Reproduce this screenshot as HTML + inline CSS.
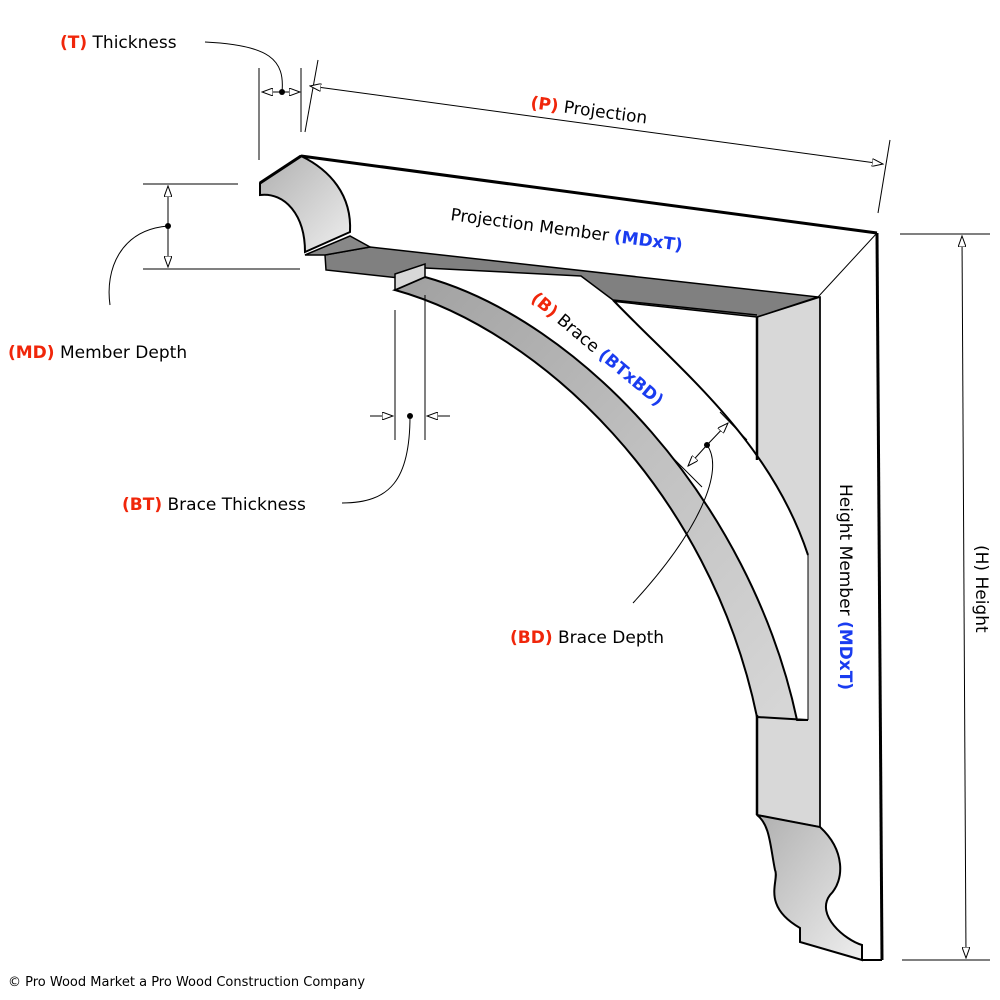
<!DOCTYPE html>
<html><head><style>
body{margin:0;background:#fff;}
svg{display:block}
text{font-family:"DejaVu Sans","Liberation Sans",sans-serif;font-size:17px;}
.r{fill:#f0260a;font-weight:bold}
.b{fill:#1a3cf0;font-weight:bold}
</style></head><body>
<svg width="1000" height="1000" viewBox="0 0 1000 1000" xmlns="http://www.w3.org/2000/svg">
<defs>
<linearGradient id="g1" x1="0" y1="0" x2="1" y2="1"><stop offset="0" stop-color="#b0b0b0"/><stop offset="1" stop-color="#eee"/></linearGradient>
<linearGradient id="g2" x1="0" y1="0" x2="1" y2="1"><stop offset="0" stop-color="#a0a0a0"/><stop offset="0.5" stop-color="#c0c0c0"/><stop offset="1" stop-color="#d8d8d8"/></linearGradient>
<marker id="ah" markerWidth="12" markerHeight="8" refX="11" refY="4" orient="auto-start-reverse" markerUnits="userSpaceOnUse"><path d="M0,0 L11,4 L0,8 Z" fill="#fff" stroke="#000" stroke-width="1"/></marker>
</defs>
<g stroke="#000" fill="none">
<path d="M757,317 L820,297 L820,827 L757,815 Z" fill="#d8d8d8" stroke-width="1.5"/>
<path d="M325,255 L370,247 L818,297 L757,317 L326,270 Z" fill="#808080" stroke-width="1.5"/>
<path d="M305,255 L350,236 L370,247 L325,255 Z" fill="#888" stroke-width="1.5"/>
<line x1="301" y1="156" x2="877" y2="233" stroke-width="3"/>
<line x1="877" y1="233" x2="818" y2="297" stroke-width="1"/>
<path d="M260,183 L301,156 C330,170 352,195 350,232 L305,252 C305,215 285,192 260,195 Z" fill="url(#g1)" stroke-width="2"/>
<path d="M260,183 L301,156" stroke-width="3"/>
<path d="M425,268 L581,276 L613,300 C680,370 770,440 808,555 L808,720 L757,717 L425,277 Z" fill="#fff" stroke="none"/>
<path d="M425,268 L581,276 L613,300 L757,315" stroke-width="1.5"/>
<path d="M613,300 C680,370 770,440 808,555" stroke-width="2"/>
<line x1="808" y1="555" x2="808" y2="720" stroke-width="1"/>
<path d="M395,290 C540,330 710,490 757,717 L808,720 L797,720 C750,500 580,320 425,277 Z" fill="url(#g2)" stroke-width="2"/>
<path d="M395,274 L425,264 L425,277 L395,290 Z" fill="#d8d8d8" stroke-width="1.5"/>
<line x1="757" y1="317" x2="757" y2="460" stroke-width="2.5"/>
<line x1="757" y1="715" x2="757" y2="815" stroke-width="2.5"/>
<line x1="820" y1="297" x2="820" y2="827" stroke-width="1.5"/>
<line x1="877" y1="233" x2="882" y2="960" stroke-width="3"/>
<path d="M757,815 L820,827 C845,850 845,880 830,895 C815,915 845,940 862,945 L862,960 L800,942 L800,928 C760,905 780,880 775,870 C770,845 770,825 757,815 Z" fill="url(#g1)" stroke-width="2"/>
<line x1="862" y1="960" x2="882" y2="960" stroke-width="2"/>
<g stroke-width="1">
<line x1="259" y1="68" x2="259" y2="160"/>
<line x1="301" y1="68" x2="301" y2="132"/>
<line x1="305" y1="132" x2="318" y2="60"/>
<line x1="262" y1="92" x2="280" y2="92" marker-start="url(#ah)"/>
<line x1="284" y1="92" x2="300" y2="92" marker-end="url(#ah)"/>
<path d="M282,92 C285,60 270,45 205,42"/>
<line x1="310" y1="86" x2="883" y2="164" marker-start="url(#ah)" marker-end="url(#ah)"/>
<line x1="890" y1="140" x2="878" y2="213"/>
<line x1="143" y1="184" x2="238" y2="184"/>
<line x1="143" y1="269" x2="300" y2="269"/>
<line x1="168" y1="186" x2="168" y2="267" marker-start="url(#ah)" marker-end="url(#ah)"/>
<path d="M168,226 C120,230 105,270 110,305"/>
<line x1="900" y1="234" x2="990" y2="234"/>
<line x1="902" y1="960" x2="990" y2="960"/>
<line x1="962" y1="236" x2="966" y2="958" marker-start="url(#ah)" marker-end="url(#ah)"/>
<line x1="395" y1="310" x2="395" y2="440"/>
<line x1="425" y1="295" x2="425" y2="440"/>
<line x1="370" y1="416" x2="393" y2="416" marker-end="url(#ah)"/>
<line x1="450" y1="416" x2="427" y2="416" marker-end="url(#ah)"/>
<path d="M410,416 C410,480 390,503 342,503"/>
<line x1="673" y1="458" x2="702" y2="487"/>
<line x1="720" y1="412" x2="747" y2="440"/>
<line x1="707" y1="445" x2="688" y2="466" marker-end="url(#ah)"/>
<line x1="707" y1="445" x2="728" y2="423" marker-end="url(#ah)"/>
<path d="M707,445 C725,470 700,530 633,603"/>
</g>
</g>
<g fill="#000" stroke="none">
<circle cx="282" cy="92" r="3"/><circle cx="168" cy="226" r="3"/><circle cx="410" cy="416" r="3"/><circle cx="707" cy="445" r="3"/>
</g>
<text x="60" y="48"><tspan class="r">(T)</tspan> Thickness</text>
<text x="530" y="108" transform="rotate(7.6 530 108)"><tspan class="r">(P)</tspan> Projection</text>
<text x="450" y="220" transform="rotate(7.6 450 220)">Projection Member <tspan class="b">(MDxT)</tspan></text>
<text x="8" y="358"><tspan class="r">(MD)</tspan> Member Depth</text>
<text x="530" y="300" transform="rotate(40 530 300)"><tspan class="r">(B)</tspan> Brace <tspan class="b">(BTxBD)</tspan></text>
<text x="122" y="510"><tspan class="r">(BT)</tspan> Brace Thickness</text>
<text x="510" y="643"><tspan class="r">(BD)</tspan> Brace Depth</text>
<text x="840" y="484" transform="rotate(90 840 484)">Height Member <tspan class="b">(MDxT)</tspan></text>
<text x="976" y="545" transform="rotate(90 976 545)">(H) Height</text>
<text x="8" y="986" style="font-size:13px">© Pro Wood Market a Pro Wood Construction Company</text>
</svg>
</body></html>
